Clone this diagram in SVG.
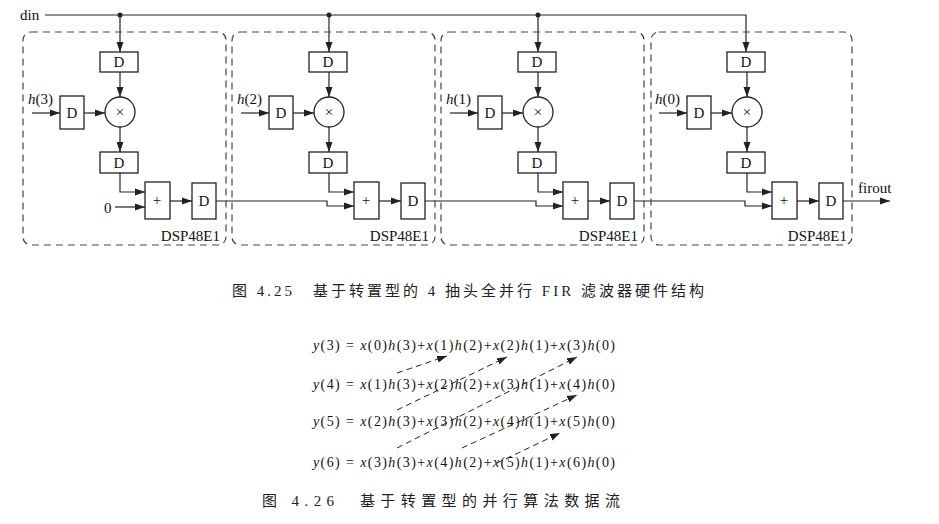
<svg xmlns="http://www.w3.org/2000/svg" width="939" height="524" viewBox="0 0 939 524">
<style>
.b{fill:#fff;stroke:#222;stroke-width:1.3}
.w{fill:none;stroke:#222;stroke-width:1.2}
.dash{fill:none;stroke:#444;stroke-width:1.2;stroke-dasharray:7,5}
.t{font-family:"Liberation Serif",serif;font-size:15px;fill:#111}
.i{font-style:italic}
.eq{font-family:"Liberation Serif",serif;font-size:14px;fill:#111}
.cap{font-family:"Liberation Serif","Noto Sans CJK SC",serif;font-size:15px;fill:#222}
</style>
<defs>
<marker id="a" markerWidth="10" markerHeight="8" refX="10" refY="4" orient="auto" markerUnits="userSpaceOnUse"><path d="M0,0.5 L10,4 L0,7.5z" fill="#222"/></marker>
</defs>
<rect width="939" height="524" fill="#fff"/>
<g id="connectors">
<text class="t" x="20" y="20">din</text>
<path class="w" d="M45,15 H746 V52" marker-end="url(#a)"/>
<circle cx="120" cy="15" r="2.5" fill="#222"/><circle cx="329" cy="15" r="2.5" fill="#222"/><circle cx="538" cy="15" r="2.5" fill="#222"/>
<path class="w" d="M120,15 V52" marker-end="url(#a)"/>
<path class="w" d="M329,15 V52" marker-end="url(#a)"/>
<path class="w" d="M538,15 V52" marker-end="url(#a)"/>
<path class="w" d="M216,201 H327 V206 H354" marker-end="url(#a)"/>
<path class="w" d="M425,201 H536 V206 H563" marker-end="url(#a)"/>
<path class="w" d="M634,201 H745 V206 H772" marker-end="url(#a)"/>
<path class="w" d="M843,201 H890" marker-end="url(#a)"/>
<text class="t" x="858" y="193">firout</text>
</g>
<g id="block1">
<rect class="dash" x="23" y="32" width="203" height="213" rx="8"/>
<rect class="b" x="100" y="52" width="38" height="20"/><text class="t" x="119" y="67" text-anchor="middle">D</text>
<path class="w" d="M120,72 V97" marker-end="url(#a)"/>
<circle class="b" cx="120" cy="112" r="15"/><text class="t" x="120" y="117" text-anchor="middle" font-size="12">×</text>
<text class="t" x="28" y="104"><tspan class="i">h</tspan>(3)</text>
<path class="w" d="M32,113 H60" marker-end="url(#a)"/>
<rect class="b" x="60" y="96" width="24" height="33"/><text class="t" x="72" y="118" text-anchor="middle">D</text>
<path class="w" d="M84,113 H105" marker-end="url(#a)"/>
<path class="w" d="M120,127 V152" marker-end="url(#a)"/>
<rect class="b" x="100" y="152" width="38" height="21"/><text class="t" x="119" y="168" text-anchor="middle">D</text>
<path class="w" d="M120,173 V192 H145" marker-end="url(#a)"/>
<text class="t" x="104" y="213">0</text>
<path class="w" d="M115,207 H145" marker-end="url(#a)"/>
<rect class="b" x="145" y="182" width="25" height="37"/><text class="t" x="157" y="205" text-anchor="middle" font-size="12">+</text>
<path class="w" d="M170,201 H192" marker-end="url(#a)"/>
<rect class="b" x="192" y="183" width="24" height="36"/><text class="t" x="204" y="206" text-anchor="middle">D</text>
<text class="t" x="220" y="241" text-anchor="end" font-size="14">DSP48E1</text>
</g>
<g id="block2" transform="translate(209,0)">
<rect class="dash" x="23" y="32" width="203" height="213" rx="8"/>
<rect class="b" x="100" y="52" width="38" height="20"/><text class="t" x="119" y="67" text-anchor="middle">D</text>
<path class="w" d="M120,72 V97" marker-end="url(#a)"/>
<circle class="b" cx="120" cy="112" r="15"/><text class="t" x="120" y="117" text-anchor="middle" font-size="12">×</text>
<text class="t" x="28" y="104"><tspan class="i">h</tspan>(2)</text>
<path class="w" d="M32,113 H60" marker-end="url(#a)"/>
<rect class="b" x="60" y="96" width="24" height="33"/><text class="t" x="72" y="118" text-anchor="middle">D</text>
<path class="w" d="M84,113 H105" marker-end="url(#a)"/>
<path class="w" d="M120,127 V152" marker-end="url(#a)"/>
<rect class="b" x="100" y="152" width="38" height="21"/><text class="t" x="119" y="168" text-anchor="middle">D</text>
<path class="w" d="M120,173 V192 H145" marker-end="url(#a)"/>
<rect class="b" x="145" y="182" width="25" height="37"/><text class="t" x="157" y="205" text-anchor="middle" font-size="12">+</text>
<path class="w" d="M170,201 H192" marker-end="url(#a)"/>
<rect class="b" x="192" y="183" width="24" height="36"/><text class="t" x="204" y="206" text-anchor="middle">D</text>
<text class="t" x="220" y="241" text-anchor="end" font-size="14">DSP48E1</text>
</g>
<g id="block3" transform="translate(418,0)">
<rect class="dash" x="23" y="32" width="203" height="213" rx="8"/>
<rect class="b" x="100" y="52" width="38" height="20"/><text class="t" x="119" y="67" text-anchor="middle">D</text>
<path class="w" d="M120,72 V97" marker-end="url(#a)"/>
<circle class="b" cx="120" cy="112" r="15"/><text class="t" x="120" y="117" text-anchor="middle" font-size="12">×</text>
<text class="t" x="28" y="104"><tspan class="i">h</tspan>(1)</text>
<path class="w" d="M32,113 H60" marker-end="url(#a)"/>
<rect class="b" x="60" y="96" width="24" height="33"/><text class="t" x="72" y="118" text-anchor="middle">D</text>
<path class="w" d="M84,113 H105" marker-end="url(#a)"/>
<path class="w" d="M120,127 V152" marker-end="url(#a)"/>
<rect class="b" x="100" y="152" width="38" height="21"/><text class="t" x="119" y="168" text-anchor="middle">D</text>
<path class="w" d="M120,173 V192 H145" marker-end="url(#a)"/>
<rect class="b" x="145" y="182" width="25" height="37"/><text class="t" x="157" y="205" text-anchor="middle" font-size="12">+</text>
<path class="w" d="M170,201 H192" marker-end="url(#a)"/>
<rect class="b" x="192" y="183" width="24" height="36"/><text class="t" x="204" y="206" text-anchor="middle">D</text>
<text class="t" x="220" y="241" text-anchor="end" font-size="14">DSP48E1</text>
</g>
<g id="block4" transform="translate(627,0)">
<rect class="dash" x="24" y="32" width="201" height="213" rx="8"/>
<rect class="b" x="100" y="52" width="38" height="20"/><text class="t" x="119" y="67" text-anchor="middle">D</text>
<path class="w" d="M120,72 V97" marker-end="url(#a)"/>
<circle class="b" cx="120" cy="112" r="15"/><text class="t" x="120" y="117" text-anchor="middle" font-size="12">×</text>
<text class="t" x="28" y="104"><tspan class="i">h</tspan>(0)</text>
<path class="w" d="M32,113 H60" marker-end="url(#a)"/>
<rect class="b" x="60" y="96" width="24" height="33"/><text class="t" x="72" y="118" text-anchor="middle">D</text>
<path class="w" d="M84,113 H105" marker-end="url(#a)"/>
<path class="w" d="M120,127 V152" marker-end="url(#a)"/>
<rect class="b" x="100" y="152" width="38" height="21"/><text class="t" x="119" y="168" text-anchor="middle">D</text>
<path class="w" d="M120,173 V192 H145" marker-end="url(#a)"/>
<rect class="b" x="145" y="182" width="25" height="37"/><text class="t" x="157" y="205" text-anchor="middle" font-size="12">+</text>
<path class="w" d="M170,201 H192" marker-end="url(#a)"/>
<rect class="b" x="192" y="183" width="24" height="36"/><text class="t" x="204" y="206" text-anchor="middle">D</text>
<text class="t" x="220" y="241" text-anchor="end" font-size="14">DSP48E1</text>
</g>
<text class="cap" x="232" y="296" textLength="472">图 4.25　基于转置型的 4 抽头全并行 FIR 滤波器硬件结构</text>
<g id="equations">
<text class="eq" x="313" y="350" textLength="302"><tspan class="i">y</tspan>(3) = <tspan class="i">x</tspan>(0)<tspan class="i">h</tspan>(3)+<tspan class="i">x</tspan>(1)<tspan class="i">h</tspan>(2)+<tspan class="i">x</tspan>(2)<tspan class="i">h</tspan>(1)+<tspan class="i">x</tspan>(3)<tspan class="i">h</tspan>(0)</text>
<text class="eq" x="313" y="389" textLength="302"><tspan class="i">y</tspan>(4) = <tspan class="i">x</tspan>(1)<tspan class="i">h</tspan>(3)+<tspan class="i">x</tspan>(2)<tspan class="i">h</tspan>(2)+<tspan class="i">x</tspan>(3)<tspan class="i">h</tspan>(1)+<tspan class="i">x</tspan>(4)<tspan class="i">h</tspan>(0)</text>
<text class="eq" x="313" y="426" textLength="302"><tspan class="i">y</tspan>(5) = <tspan class="i">x</tspan>(2)<tspan class="i">h</tspan>(3)+<tspan class="i">x</tspan>(3)<tspan class="i">h</tspan>(2)+<tspan class="i">x</tspan>(4)<tspan class="i">h</tspan>(1)+<tspan class="i">x</tspan>(5)<tspan class="i">h</tspan>(0)</text>
<text class="eq" x="313" y="467" textLength="302"><tspan class="i">y</tspan>(6) = <tspan class="i">x</tspan>(3)<tspan class="i">h</tspan>(3)+<tspan class="i">x</tspan>(4)<tspan class="i">h</tspan>(2)+<tspan class="i">x</tspan>(5)<tspan class="i">h</tspan>(1)+<tspan class="i">x</tspan>(6)<tspan class="i">h</tspan>(0)</text>
<g stroke="#222" stroke-width="1" stroke-dasharray="6,4" fill="none">
<path d="M397,373 L447,356" marker-end="url(#a)"/>
<path d="M397,410 L507,357" marker-end="url(#a)"/>
<path d="M397,448 L577,357" marker-end="url(#a)"/>
<path d="M462,448 L577,395" marker-end="url(#a)"/>
<path d="M497,463 L560,433" marker-end="url(#a)"/>
</g>
</g>
<text class="cap" x="262" y="506" textLength="358">图 4.26　基于转置型的并行算法数据流</text>
</svg>
